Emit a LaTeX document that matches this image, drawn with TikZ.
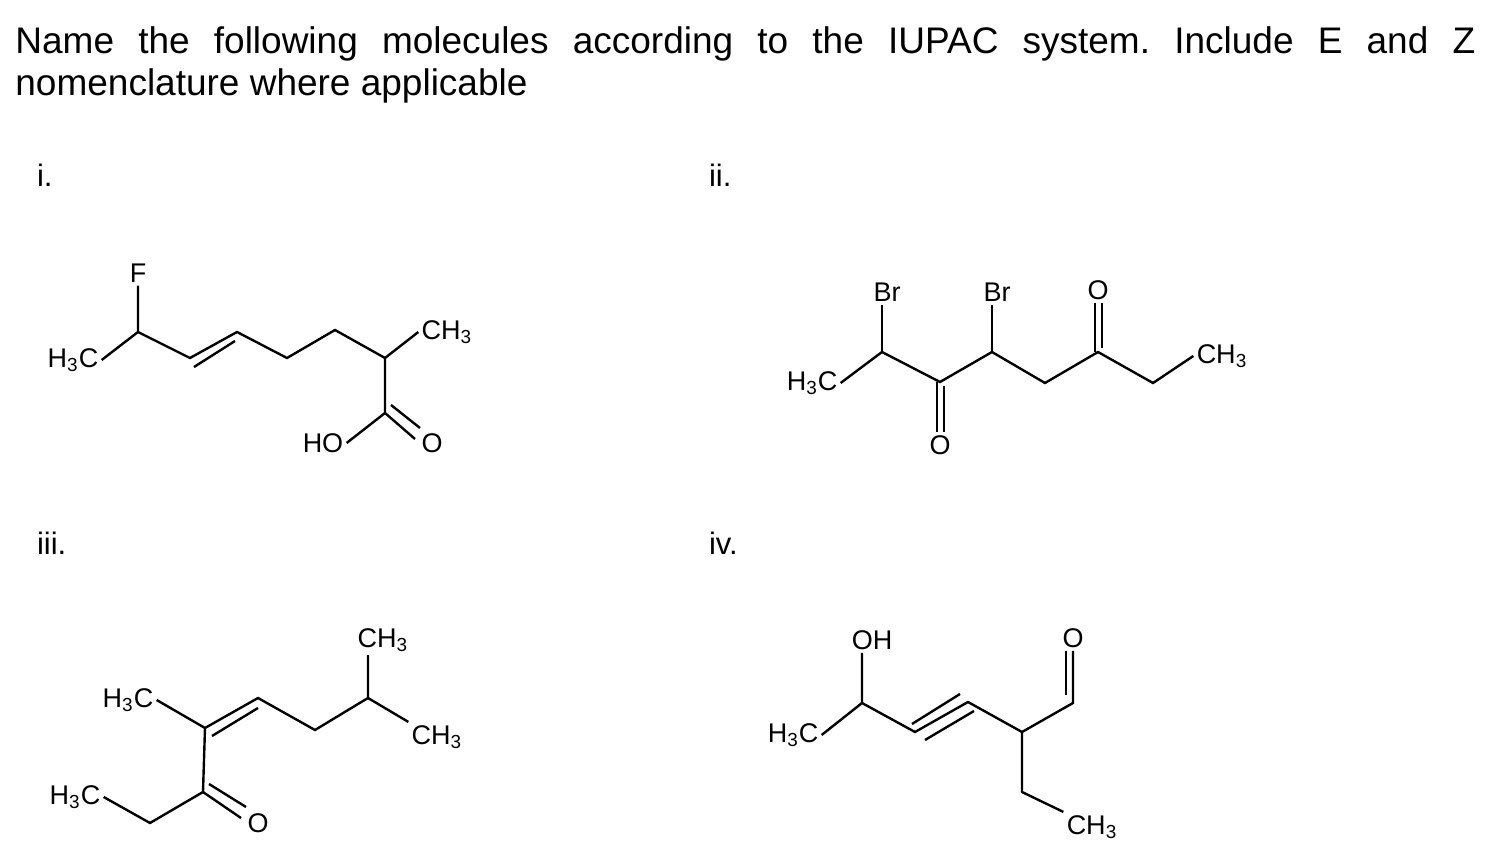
\documentclass[tikz,border=0pt]{standalone}
\usetikzlibrary{calc}
\usepackage{fontspec}
\setmainfont{Liberation Sans}
\frenchspacing
\newcommand{\subthree}{\textsubscript{3}}
\begin{document}
\begin{tikzpicture}[x=0.5pt,y=-0.5pt,
  bond/.style={line width=1.2pt},
  atom/.style={inner sep=1.5pt,font=\fontsize{13.5}{15}\selectfont},
  num/.style={font=\fontsize{15.5}{17}\selectfont,anchor=west}]
\useasboundingbox (0,0) rectangle (1490,860);
\node[anchor=north west,text width=730pt,align=justify,inner sep=0pt,font=\fontsize{18.5}{21}\selectfont] (title) at (15,26)
 {Name the following molecules according to the IUPAC system. Include E and Z\linebreak nomenclature where applicable};
\node[num] (l1) at (30,175) {i.};
\node[num] (l2) at (702,175) {ii.};
\node[num] (l3) at (30,543) {iii.};
\node[num] (l4) at (702,543) {iv.};
% molecule i
\node[atom] (a0) at (73,360) {H\subthree C};
\node[atom] (aF) at (138,273) {F};
\node[atom] (aMe) at (447,332) {CH\subthree};
\node[atom] (aHO) at (323,443) {HO};
\node[atom] (aO) at (432,443) {O};
\coordinate (a1) at (138,332); \coordinate (a2) at (190,358);
\coordinate (a3) at (237,332); \coordinate (a4) at (287,358);
\coordinate (a5) at (335,330); \coordinate (a6) at (385,358);
\coordinate (a7) at (385,413);
\draw[bond] (a0.east) -- (a1) -- (aF);
\draw[bond] (a1) -- (a2) -- (a3) -- (a4) -- (a5) -- (a6) -- (aMe.west);
\draw[bond] ($(a2)+(4,9)$) -- ($(a3)+(-2,9)$);
\draw[bond] (a6) -- (a7) -- (aHO.east);
\draw[bond] (a7) -- (415,439);
\draw[bond] ($(a7)+(6,-8)$) -- (420,428);
% molecule ii
\node[atom] (b0) at (812,383) {H\subthree C};
\node[atom] (bBr1) at (887,292) {Br};
\node[atom] (bBr2) at (997,292) {Br};
\node[atom] (bO1) at (940,445) {O};
\node[atom] (bO2) at (1098,290) {O};
\node[atom] (bMe) at (1222,356) {CH\subthree};
\coordinate (b1) at (882,352); \coordinate (b2) at (940,382);
\coordinate (b3) at (992,352); \coordinate (b4) at (1045,383);
\coordinate (b5) at (1098,352); \coordinate (b6) at (1153,383);
\draw[bond] (b0.east) -- (b1) -- (b2) -- (b3) -- (b4) -- (b5) -- (b6) -- (bMe.west);
\draw[bond] (b1) -- (b1 |- bBr1.south);
\draw[bond] (b3) -- (b3 |- bBr2.south);
\draw[bond] ($(b2)+(-3,0)$) -- ([xshift=-1.5pt]bO1.north);
\draw[bond] ($(b2)+(4,4)$) -- ([xshift=2pt]bO1.north);
\draw[bond] ($(b5)+(-3,0)$) -- ([xshift=-1.5pt]bO2.south);
\draw[bond] ($(b5)+(4,-4)$) -- ([xshift=2pt]bO2.south);
% molecule iii
\node[atom] (cMe1) at (383,640) {CH\subthree};
\node[atom] (cMe2) at (437,737) {CH\subthree};
\node[atom] (cMe3) at (128,700) {H\subthree C};
\node[atom] (cMe4) at (75,797) {H\subthree C};
\node[atom] (cO) at (258,823) {O};
\coordinate (c1) at (368,698); \coordinate (c2) at (315,730);
\coordinate (c3) at (258,698); \coordinate (c4) at (205,728);
\coordinate (c5) at (203,792); \coordinate (c6) at (150,823);
\draw[bond] (c1 |- cMe1.south) -- (c1) -- (cMe2.north west);
\draw[bond] (c1) -- (c2) -- (c3) -- (c4) -- (cMe3.east);
\draw[bond] ($(c4)+(7,8)$) -- ($(c3)+(0,10)$);
\draw[bond] (c4) -- (c5) -- (c6) -- (cMe4.east);
\draw[bond] (c5) -- (241,818);
\draw[bond] ($(c5)+(6,-8)$) -- (246,807);
% molecule iv
\node[atom] (d0) at (793,735) {H\subthree C};
\node[atom] (dOH) at (872,640) {OH};
\node[atom] (dO) at (1073,638) {O};
\node[atom] (dMe) at (1092,827) {CH\subthree};
\coordinate (d1) at (862,703); \coordinate (d2) at (915,732);
\coordinate (d3) at (968,702); \coordinate (d4) at (1022,732);
\coordinate (d5) at (1073,703); \coordinate (d6) at (1022,792);
\draw[bond] (d0.east) -- (d1) -- (d1 |- dOH.south);
\draw[bond] (d1) -- (d2) -- (d3) -- (d4) -- (d5) -- (d5 |- dO.south);
\draw[bond] ($(d2)+(-3,-8)$) -- ($(d3)+(-8,-8)$);
\draw[bond] ($(d2)+(10,8)$) -- ($(d3)+(6,9)$);
\draw[bond] ($(d5)+(-7,-8)$) -- ($(d5 |- dO.south)+(-7,0)$);
\draw[bond] (d4) -- (d6) -- (dMe.north west);
\end{tikzpicture}
\end{document}
